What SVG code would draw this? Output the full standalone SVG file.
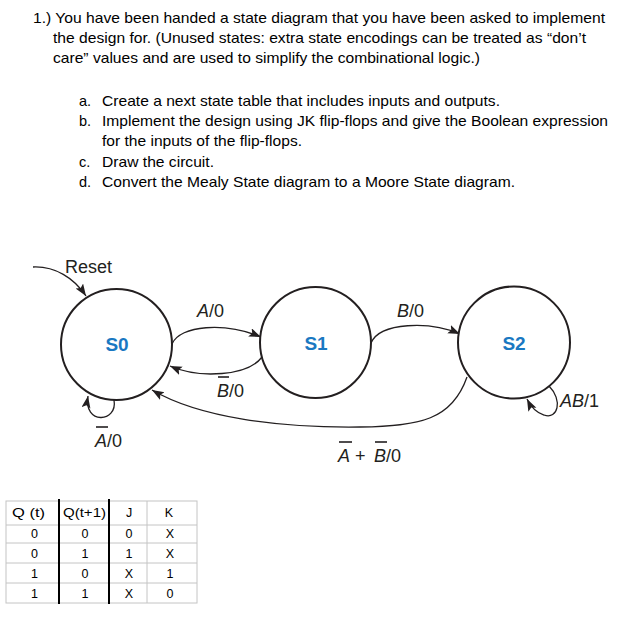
<svg xmlns="http://www.w3.org/2000/svg" width="624" height="622" viewBox="0 0 624 622">
<style>
.q{font-family:"Liberation Sans",Arial,sans-serif;font-size:14.5px;fill:#000}
.lbl{font-family:"Liberation Sans",Arial,sans-serif;font-size:18px;fill:#231f20}
.it{font-style:italic}
.st{font-family:"Liberation Sans",Arial,sans-serif;font-size:19px;font-weight:bold;fill:#1a78c2;text-anchor:middle}
.node{fill:#fff;stroke:#231f20;stroke-width:2}
.edge{fill:none;stroke:#231f20;stroke-width:1.3;marker-end:url(#ah)}
.bar{stroke:#231f20;stroke-width:1.6}
.tt{font-family:"Liberation Sans",Arial,sans-serif;font-size:12.5px;fill:#000;text-anchor:middle}
.gl{stroke:#c4c4c4;stroke-width:1;fill:none}
.bl{stroke:#000;stroke-width:2}
</style>
<defs>
<marker id="ah" markerUnits="userSpaceOnUse" markerWidth="13" markerHeight="10" refX="12" refY="4.5" orient="auto">
<path d="M0,0 L12,4.5 L0,9 L2.5,4.5 Z" fill="#231f20"/>
</marker>
</defs>
<rect width="624" height="622" fill="#fff"/>

<g id="question">
<text class="q" x="33" y="23" textLength="572" lengthAdjust="spacingAndGlyphs">1.) You have been handed a state diagram that you have been asked to implement</text>
<text class="q" x="53" y="43" textLength="533" lengthAdjust="spacingAndGlyphs">the design for. (Unused states: extra state encodings can be treated as “don’t</text>
<text class="q" x="53" y="63" textLength="427" lengthAdjust="spacingAndGlyphs">care” values and are used to simplify the combinational logic.)</text>
<text class="q" x="79" y="106">a.</text>
<text class="q" x="102" y="106" textLength="398" lengthAdjust="spacingAndGlyphs">Create a next state table that includes inputs and outputs.</text>
<text class="q" x="79" y="126">b.</text>
<text class="q" x="102" y="126" textLength="506" lengthAdjust="spacingAndGlyphs">Implement the design using JK flip-flops and give the Boolean expression</text>
<text class="q" x="102" y="146" textLength="200" lengthAdjust="spacingAndGlyphs">for the inputs of the flip-flops.</text>
<text class="q" x="79" y="167">c.</text>
<text class="q" x="102" y="167" textLength="112" lengthAdjust="spacingAndGlyphs">Draw the circuit.</text>
<text class="q" x="79" y="187">d.</text>
<text class="q" x="102" y="187" textLength="413" lengthAdjust="spacingAndGlyphs">Convert the Mealy State diagram to a Moore State diagram.</text>
</g>

<g id="connectors">
<path id="e-reset" class="edge" d="M33,267 C55,266 74,278 86,296"/>
<path id="e-s0-s1" class="edge" d="M172,344 C180,325 225,322 261,337"/>
<path id="e-s1-s0" class="edge" d="M262,357 C248,376 200,379 170,366"/>
<path id="e-s0-s0" class="edge" d="M114,400 C118,423 83,425 88,396"/>
<path id="e-s1-s2" class="edge" d="M371,343 C380,322 430,321 460,334"/>
<path id="e-s2-s0" class="edge" d="M467,377 C452,420 420,426 360,427 C280,428 200,418 152,390"/>
<path id="e-s2-s2" class="edge" d="M549,386 C563,400 558,420 544,415 C537,413 531,407 527,399"/>
</g>

<g id="edge-labels">
<text class="lbl" x="65" y="273">Reset</text>
<text class="lbl" x="197" y="317"><tspan class="it">A</tspan>/0</text>
<text class="lbl" x="217" y="397"><tspan class="it">B</tspan>/0</text>
<line class="bar" x1="218" y1="377" x2="229" y2="377"/>
<text class="lbl" x="95" y="447"><tspan class="it">A</tspan>/0</text>
<line class="bar" x1="96" y1="427" x2="108" y2="427"/>
<text class="lbl" x="397" y="317"><tspan class="it">B</tspan>/0</text>
<text class="lbl" x="560" y="407"><tspan class="it">AB</tspan>/1</text>
<text class="lbl" y="462"><tspan class="it" x="338">A</tspan><tspan x="355">+</tspan><tspan class="it" x="374">B</tspan><tspan x="386">/0</tspan></text>
<line class="bar" x1="339" y1="442" x2="352" y2="442"/>
<line class="bar" x1="375" y1="442" x2="387" y2="442"/>
</g>

<g id="S0">
<circle class="node" cx="116.5" cy="344.5" r="55.5"/>
<text class="st" x="117" y="351">S0</text>
</g>
<g id="S1">
<circle class="node" cx="315.5" cy="342.5" r="55.5"/>
<text class="st" x="316" y="349.5">S1</text>
</g>
<g id="S2">
<circle class="node" cx="514" cy="342.5" r="56"/>
<text class="st" x="514" y="349.5">S2</text>
</g>

<g id="jk-table">
<rect class="gl" x="6" y="501" width="191" height="102"/>
<line class="gl" x1="6" y1="525" x2="197" y2="525"/>
<line class="gl" x1="6" y1="543" x2="197" y2="543"/>
<line class="gl" x1="6" y1="563" x2="197" y2="563"/>
<line class="gl" x1="6" y1="583" x2="197" y2="583"/>
<line class="gl" x1="147" y1="501" x2="147" y2="603"/>
<line class="bl" x1="59" y1="499" x2="59" y2="604"/>
<line class="bl" x1="109" y1="499" x2="109" y2="604"/>
<text class="tt" x="12" y="517" style="text-anchor:start" textLength="33" lengthAdjust="spacingAndGlyphs">Q (t)</text>
<text class="tt" x="63" y="517" style="text-anchor:start" textLength="43" lengthAdjust="spacingAndGlyphs">Q(t+1)</text>
<text class="tt" x="129" y="517">J</text>
<text class="tt" x="169" y="517">K</text>
<text class="tt" x="34.5" y="538">0</text><text class="tt" x="85" y="538">0</text><text class="tt" x="129" y="538">0</text><text class="tt" x="170" y="538">X</text>
<text class="tt" x="34.5" y="558">0</text><text class="tt" x="85" y="558">1</text><text class="tt" x="129" y="558">1</text><text class="tt" x="170" y="558">X</text>
<text class="tt" x="34.5" y="578">1</text><text class="tt" x="85" y="578">0</text><text class="tt" x="129" y="578">X</text><text class="tt" x="170" y="578">1</text>
<text class="tt" x="34.5" y="598">1</text><text class="tt" x="85" y="598">1</text><text class="tt" x="129" y="598">X</text><text class="tt" x="170" y="598">0</text>
</g>
</svg>
